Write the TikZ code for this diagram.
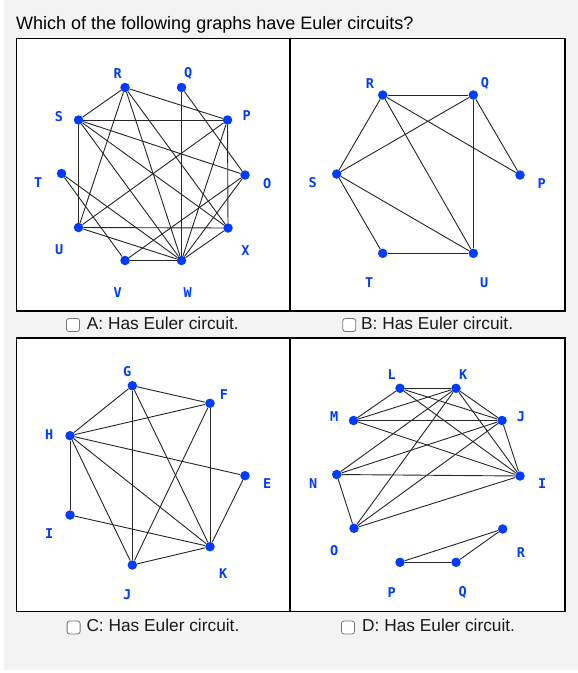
\documentclass[tikz,border=0pt]{standalone}
\usepackage{fontspec}
\setmainfont{Liberation Sans}
\newfontfamily\lblfont{DejaVu Sans Mono}
\usetikzlibrary{positioning}
\definecolor{vblue}{RGB}{0,60,255}
\definecolor{pagegray}{RGB}{243,243,243}
\definecolor{boxgray}{RGB}{118,118,118}

\begin{document}
\begin{tikzpicture}[x=1pt, y=-1pt,
  dot/.style={circle, fill=vblue, inner sep=0, minimum size=9.5pt},
  lbl/.style={text=vblue, font=\lblfont\bfseries\fontsize{13.5}{13.5}\selectfont, inner sep=0},
  edge/.style={black!85, line width=0.9pt},
  panel/.style={draw=black, line width=1.6pt, fill=white},
  tickbox/.style={draw=boxgray, fill=white, rounded corners=2.5pt, line width=0.8pt, minimum size=13pt, inner sep=0},
  captxt/.style={anchor=base west, inner sep=0, font=\fontsize{17.3}{20}\selectfont, text=black!90}]
  \fill[white] (0,0) rectangle (578,673);
  \fill[pagegray] (4,0) rectangle (578,670);
  \useasboundingbox (0,0) rectangle (578,673);

  \node[anchor=base west, inner sep=0, font=\fontsize{18}{22}\selectfont] (title) at (16,29) {Which of the following graphs have Euler circuits?};

  % the four boxes
  \draw[panel] (16.5,38.5) rectangle (290,311);
  \draw[panel] (290,38.5) rectangle (565,311);
  \draw[panel] (16.5,338) rectangle (290,611.5);
  \draw[panel] (290,338) rectangle (565,611.5);

  % graph A
  \foreach \n/\x/\y in {R/125/87.5, Q/181.5/87.5, S/78.5/120, P/227.5/120, T/61.5/173.5, O/245/175, U/78.5/227.5, X/228/228, V/125/260.5, W/181.5/260.5}
    \node[dot] (a\n) at (\x,\y) {};
  \foreach \n/\x/\y in {R/117.7/73.3, Q/188.3/73.3, S/59/116.7, P/246.7/116, T/38.3/182.7, O/267.3/183.3, U/59.3/249.5, X/245.5/250.5, V/117.7/292.3, W/187.7/292.3}
    \node[lbl] (la\n) at (\x,\y) {\n};
  \foreach \u/\v in {R/S, R/P, R/U, R/W, R/X, Q/W, Q/O, S/P, S/U, S/O, S/X, S/W, P/X, P/U, P/W, O/W, O/V, T/V, T/W, U/X, U/W, V/W, X/W}
    \draw[edge] (a\u) -- (a\v);

  % graph B
  \foreach \n/\x/\y in {R/382.7/95, Q/473.3/95, S/336.7/174, P/520/175, T/382.7/253.3, U/473.3/253.3}
    \node[dot] (b\n) at (\x,\y) {};
  \foreach \n/\x/\y in {R/370/83.3, Q/485/83.3, S/312.7/182.7, P/541.7/183.3, T/369.3/282.3, U/484.3/282.3}
    \node[lbl] (lb\n) at (\x,\y) {\n};
  \foreach \u/\v in {R/Q, R/S, R/P, R/U, Q/S, Q/P, Q/U, S/T, S/U, T/U}
    \draw[edge] (b\u) -- (b\v);

  % graph C
  \foreach \n/\x/\y in {G/132.3/385.7, F/210/403.3, H/70/435.7, E/245/475.7, I/70/515, K/210/546.7, J/132.3/565}
    \node[dot] (c\n) at (\x,\y) {};
  \foreach \n/\x/\y in {G/127.3/371.7, F/224/394.3, H/49.3/434.3, E/267.3/484, I/49.3/533.3, K/223.3/573.3, J/127.3/594.3}
    \node[lbl] (lc\n) at (\x,\y) {\n};
  \foreach \u/\v in {G/F, G/H, G/J, G/K, H/F, H/E, H/I, H/K, H/J, F/J, F/K, E/K, I/K, J/K}
    \draw[edge] (c\u) -- (c\v);

  % graph D
  \foreach \n/\x/\y in {L/400/388.3, K/456/388.3, M/353.5/420.5, J/502/420.5, N/336.7/474.5, I/520/476, O/354/528.3, R/502.7/529, P/400/562.3, Q/456/562.3}
    \node[dot] (d\n) at (\x,\y) {};
  \foreach \n/\x/\y in {L/391.7/375, K/463.3/375, M/334.3/416.7, J/521/416.7, N/313.3/483.3, I/542.3/484, O/334.3/551, R/521/552.3, P/391.7/592.7, Q/462.7/592.7}
    \node[lbl] (ld\n) at (\x,\y) {\n};
  \foreach \u/\v in {L/K, L/M, L/J, L/I, K/M, K/J, K/I, K/N, K/O, M/J, M/I, J/N, J/O, J/I, N/I, N/O, O/I, P/Q, P/R, Q/R}
    \draw[edge] (d\u) -- (d\v);

  % answer boxes
  \node[tickbox] (cbA) at (73,325) {};
  \node[captxt] (capA) at (86.7,329.5) {A: Has Euler circuit.};
  \node[tickbox] (cbB) at (349.3,325) {};
  \node[captxt] (capB) at (361,329.5) {B: Has Euler circuit.};
  \node[tickbox] (cbC) at (73.6,627.5) {};
  \node[captxt] (capC) at (86.3,631.8) {C: Has Euler circuit.};
  \node[tickbox] (cbD) at (348,627.5) {};
  \node[captxt] (capD) at (362,631.8) {D: Has Euler circuit.};
\end{tikzpicture}
\end{document}
